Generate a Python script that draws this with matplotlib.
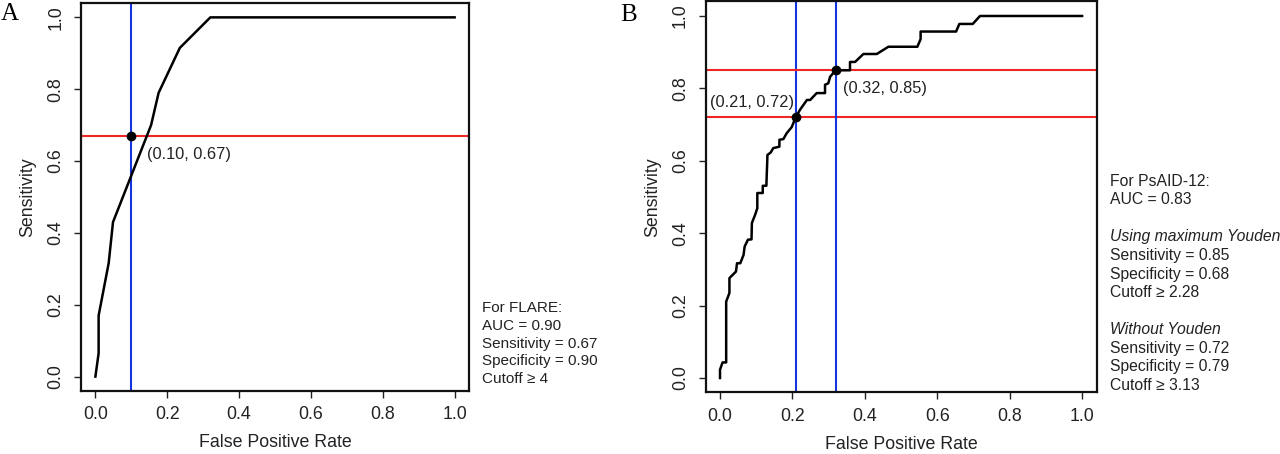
import matplotlib
matplotlib.use('Agg')
import matplotlib.pyplot as plt

plt.rcParams['font.family'] = ['Liberation Sans', 'DejaVu Sans']

# panel A: FLARE ROC curve
fpr_a = [0.0, 0.009, 0.009, 0.037, 0.049, 0.155, 0.176, 0.235, 0.32, 1.0]
tpr_a = [0.0, 0.065, 0.17, 0.316, 0.43, 0.70, 0.79, 0.915, 1.0, 1.0]
cut_a = [(0.10, 0.67)]
text_a = ['For FLARE:', 'AUC = 0.90', 'Sensitivity = 0.67',
          'Specificity = 0.90', 'Cutoff \u2265 4']

# panel B: PsAID-12 ROC curve
fpr_b = [0.0, 0.0, 0.007, 0.017, 0.017, 0.026, 0.026, 0.044, 0.047, 0.056,
         0.065, 0.068, 0.077, 0.087, 0.088, 0.097, 0.103, 0.103, 0.118, 0.118,
         0.128, 0.131, 0.140, 0.147, 0.164, 0.164, 0.175, 0.184, 0.198, 0.209,
         0.221, 0.240, 0.249, 0.267, 0.290, 0.290, 0.299, 0.304, 0.319, 0.359,
         0.359, 0.373, 0.396, 0.433, 0.465, 0.545, 0.554, 0.554, 0.652, 0.661,
         0.698, 0.718, 1.0]
tpr_b = [0.0, 0.023, 0.043, 0.043, 0.211, 0.235, 0.276, 0.294, 0.317, 0.317,
         0.340, 0.363, 0.382, 0.383, 0.428, 0.451, 0.469, 0.511, 0.511, 0.531,
         0.531, 0.616, 0.623, 0.635, 0.639, 0.658, 0.660, 0.676, 0.693, 0.720,
         0.741, 0.768, 0.768, 0.787, 0.787, 0.810, 0.814, 0.832, 0.850, 0.850,
         0.873, 0.873, 0.895, 0.895, 0.915, 0.915, 0.936, 0.957, 0.957, 0.978,
         0.978, 1.0, 1.0]
cut_b = [(0.21, 0.72), (0.32, 0.85)]
text_b = ['For PsAID-12:', 'AUC = 0.83', '',
          'Using maximum Youden', 'Sensitivity = 0.85', 'Specificity = 0.68',
          'Cutoff \u2265 2.28', '',
          'Without Youden', 'Sensitivity = 0.72', 'Specificity = 0.79',
          'Cutoff \u2265 3.13']
italic_b = ['Using maximum Youden', 'Without Youden']

ticks = [0.0, 0.2, 0.4, 0.6, 0.8, 1.0]
blue = '#1535e0'
red = '#f02525'
fs_axis = 12.8

fig = plt.figure(figsize=(12.8, 4.54), dpi=100)
ax_a = fig.add_axes([0.0633, 0.1388, 0.3031, 0.8546])
ax_b = fig.add_axes([0.5512, 0.1355, 0.3055, 0.8612])


def style_axes(ax):
    ax.set_xlim(-0.04, 1.04)
    ax.set_ylim(-0.04, 1.04)
    ax.set_xticks(ticks)
    ax.set_yticks(ticks)
    ax.set_xticklabels(['%.1f' % t for t in ticks])
    ax.set_yticklabels(['%.1f' % t for t in ticks], rotation=90, va='center')
    ax.tick_params(direction='out', length=5, width=1, labelsize=fs_axis,
                   colors='#222222')
    ax.tick_params(axis='x', pad=6)
    ax.tick_params(axis='y', pad=7)
    for s in ax.spines.values():
        s.set_linewidth(1.6)
        s.set_color('#111111')
    ax.set_xlabel('False Positive Rate', fontsize=fs_axis, labelpad=8,
                  color='#222222')
    ax.set_ylabel('Sensitivity', fontsize=fs_axis, labelpad=8, color='#222222')


for ax, fpr, tpr, cuts in [(ax_a, fpr_a, tpr_a, cut_a), (ax_b, fpr_b, tpr_b, cut_b)]:
    style_axes(ax)
    for cx, cy in cuts:
        ax.axvline(cx, color=blue, lw=1.5, zorder=1)
        ax.axhline(cy, color=red, lw=1.5, zorder=1)
    ax.plot(fpr, tpr, color='black', lw=1.8, zorder=2)
    for cx, cy in cuts:
        ax.plot(cx, cy, 'o', color='black', ms=6, zorder=3)

ax_a.text(0.145, 0.617, '(%.2f, %.2f)' % cut_a[0], fontsize=11.8, va='center',
          ha='left', color='#222222')
ax_b.text(-0.028, 0.761, '(%.2f, %.2f)' % cut_b[0], fontsize=11.8, va='center',
          ha='left', color='#222222')
ax_b.text(0.341, 0.80, '(%.2f, %.2f)' % cut_b[1], fontsize=11.8, va='center',
          ha='left', color='#222222')

# side notes
for i, line in enumerate(text_a):
    fig.text(482 / 1280, 1 - (308 + i * 17.8) / 454, line, fontsize=11,
             va='center', ha='left', color='#222222')
for i, line in enumerate(text_b):
    if not line:
        continue
    fig.text(1110 / 1280, 1 - (181 + i * 18.6) / 454, line, fontsize=11.3,
             va='center', ha='left', color='#222222',
             style='italic' if line in italic_b else 'normal')

fig.text(10 / 1280, 1 - 14 / 454, 'A', fontsize=18, family='Liberation Serif',
         ha='center', va='center')
fig.text(629 / 1280, 1 - 15 / 454, 'B', fontsize=18, family='Liberation Serif',
         ha='center', va='center')

fig.savefig('out.png', dpi=100)
